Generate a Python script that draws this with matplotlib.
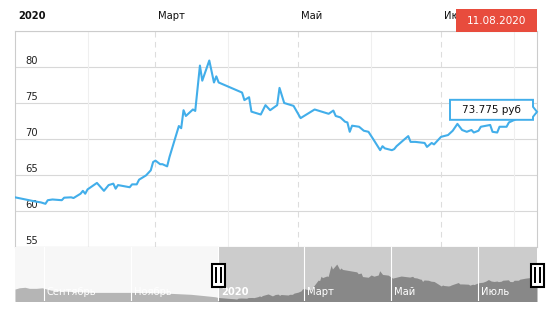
import matplotlib
matplotlib.use("Agg")
import numpy as np
import pandas as pd
import matplotlib.pyplot as plt
import matplotlib.dates as mdates
from matplotlib.patches import Rectangle, Polygon
from matplotlib.transforms import Affine2D, blended_transform_factory, offset_copy

# USD/RUB 2020
dates = ["2020-01-01", "2020-01-10", "2020-01-12", "2020-01-14", "2020-01-15", "2020-01-17",
         "2020-01-21", "2020-01-22", "2020-01-25", "2020-01-26", "2020-01-29", "2020-01-30",
         "2020-01-31", "2020-02-01", "2020-02-05", "2020-02-08", "2020-02-10", "2020-02-12",
         "2020-02-13", "2020-02-14", "2020-02-19", "2020-02-20", "2020-02-22", "2020-02-23",
         "2020-02-26", "2020-02-28", "2020-02-29", "2020-03-01", "2020-03-03", "2020-03-04",
         "2020-03-06", "2020-03-07", "2020-03-11", "2020-03-12", "2020-03-13", "2020-03-14",
         "2020-03-17", "2020-03-18", "2020-03-20", "2020-03-21", "2020-03-24", "2020-03-26",
         "2020-03-27", "2020-03-28", "2020-04-07", "2020-04-08", "2020-04-10", "2020-04-11",
         "2020-04-15", "2020-04-17", "2020-04-19", "2020-04-22", "2020-04-23", "2020-04-25",
         "2020-04-29", "2020-05-02", "2020-05-08", "2020-05-14", "2020-05-16", "2020-05-17",
         "2020-05-19", "2020-05-21", "2020-05-22", "2020-05-23", "2020-05-24", "2020-05-27",
         "2020-05-29", "2020-05-31", "2020-06-02", "2020-06-05", "2020-06-06", "2020-06-07",
         "2020-06-10", "2020-06-11", "2020-06-12", "2020-06-15", "2020-06-17", "2020-06-18",
         "2020-06-20", "2020-06-24", "2020-06-25", "2020-06-27", "2020-06-28", "2020-07-01",
         "2020-07-04", "2020-07-06", "2020-07-08", "2020-07-10", "2020-07-12", "2020-07-14",
         "2020-07-15", "2020-07-17", "2020-07-18", "2020-07-22", "2020-07-23", "2020-07-25",
         "2020-07-26", "2020-07-29", "2020-07-30", "2020-08-03", "2020-08-06", "2020-08-08",
         "2020-08-10", "2020-08-11"]
rates = [61.9, 61.3, 61.2, 61.0, 61.5, 61.6,
         61.5, 61.85, 61.9, 61.8, 62.4, 62.8,
         62.4, 63.0, 63.9, 62.8, 63.6, 63.8,
         63.1, 63.6, 63.3, 63.7, 63.7, 64.35,
         64.95, 65.65, 66.8, 67.0, 66.5, 66.5,
         66.2, 67.5, 71.8, 71.5, 74.0, 73.2,
         74.1, 73.9, 80.2, 78.1, 80.9, 77.85,
         78.7, 77.85, 76.45, 75.4, 75.8, 73.8,
         73.4, 74.7, 74.0, 74.7, 77.1, 75.0,
         74.6, 72.9, 74.1, 73.5, 73.95, 73.2,
         73.0, 72.4, 72.3, 71.0, 71.85, 71.7,
         71.15, 71.0, 70.0, 68.45, 69.0, 68.7,
         68.45, 68.6, 69.0, 69.85, 70.4, 69.6,
         69.6, 69.45, 68.9, 69.45, 69.25, 70.3,
         70.55, 71.15, 72.1, 71.25, 71.0, 71.25,
         70.9, 71.15, 71.7, 71.95, 71.0, 70.9,
         71.7, 71.7, 72.3, 72.9, 73.2, 73.4,
         73.5, 73.775]

# navigator history before 2020
hist_dates = ["2019-08-12", "2019-08-15", "2019-08-19", "2019-08-22", "2019-08-27", "2019-08-31",
              "2019-09-06", "2019-09-13", "2019-09-23", "2019-10-04", "2019-10-18", "2019-11-01",
              "2019-11-15", "2019-11-29", "2019-12-13", "2019-12-23", "2019-12-30"]
hist_rates = [66.7, 67.4, 67.7, 67.1, 67.1, 67.4,
              66.1, 65.6, 65.2, 64.8, 64.8, 64.8,
              64.6, 64.25, 63.7, 62.9, 62.3]

y_ticks = [55, 60, 65, 70, 75, 80]
y_grid = [55, 60, 65, 70, 75, 80, 85]
top_ticks = ["2020-01-01", "2020-03-01", "2020-05-01", "2020-07-01"]
top_labels = ["2020", "Март", "Май", "Июль"]
minor_months = ["2020-02-01", "2020-04-01", "2020-06-01", "2020-08-01"]
nav_ticks = ["2019-09-01", "2019-11-01", "2020-01-01", "2020-03-01", "2020-05-01", "2020-07-01"]
nav_labels = ["Сентябрь", "Ноябрь", "2020", "Март", "Май", "Июль"]
last_label = "11.08.2020"
unit = "руб"

line_color = "#42aeea"
W, H = 547, 323
plt.rcParams["font.family"] = ["DejaVu Sans"]

x = pd.to_datetime(dates)
hx = pd.to_datetime(hist_dates)
start, end = x[0], x[-1]

fig = plt.figure(figsize=(W / 100, H / 100), dpi=100)
ax = fig.add_axes([15 / W, 1 - 247 / H, 522 / W, 216 / H])
nav = fig.add_axes([15 / W, 1 - 301 / H, 522 / W, 54 / H])

# main chart
ax.set_xlim(start, end)
ax.set_ylim(55, 85)
for s in ax.spines.values():
    s.set_color("#cccccc")
    s.set_linewidth(0.8)
ax.set_xticks([])
ax.set_yticks([])
for v in y_grid:
    ax.axhline(v, color="#d8d8d8", lw=0.8, zorder=1)
for m in minor_months:
    ax.axvline(pd.Timestamp(m), color="#efefef", lw=0.8, zorder=1)
for m in top_ticks[1:]:
    ax.axvline(pd.Timestamp(m), color="#dddddd", lw=0.8, ls=(0, (5, 4)), zorder=1)

ytrans = blended_transform_factory(ax.transAxes, ax.transData)
for v in y_ticks:
    ax.text(10 / 522, v, str(v), transform=offset_copy(ytrans, fig, y=1, units="dots"),
            ha="left", va="bottom", fontsize=7.2, color="#222222")

xtrans = blended_transform_factory(ax.transData, ax.transAxes)
for t, lab in zip(top_ticks, top_labels):
    ax.text(pd.Timestamp(t), 1, lab, transform=offset_copy(xtrans, fig, x=3, y=15, units="dots"),
            ha="left", va="center", fontsize=7.2, color="#111111",
            fontweight="bold" if lab == "2020" else "normal")

ax.plot(x, rates, color=line_color, lw=1.5, zorder=3, solid_joinstyle="round")

# date flag top right
fig.canvas.draw()
axr, axt = ax.transAxes.transform((1, 1))
ax.add_patch(Rectangle((axr - 81, axt - 1), 81, 23, transform=Affine2D(), facecolor="#e84c3d",
                       edgecolor="none", clip_on=False, zorder=6))
ax.text(axr - 40.5, axt + 10.5, last_label, transform=Affine2D(), ha="center", va="center",
        fontsize=7.5, color="white", zorder=7, clip_on=False)

# tooltip at last point
px, py = ax.transData.transform((mdates.date2num(end), rates[-1]))
shape = [(-87, 12), (-4, 12), (-4, 5), (0, 0), (-4, -5), (-4, -8), (-87, -8)]
ax.add_patch(Polygon(shape, closed=True, transform=Affine2D().translate(px, py),
                     facecolor="white", edgecolor=line_color, lw=1.4, clip_on=False, zorder=8))
ax.text(px - 45.5, py + 2, f"{rates[-1]:.3f} {unit}", transform=Affine2D(), ha="center",
        va="center", fontsize=7.5, color="#111111", zorder=9, clip_on=False)

# navigator
nx = hx.append(x)
nv = list(hist_rates) + list(rates)
nav.set_xlim(hx[0], end)
nav.set_ylim(59.9, 90.6)
nav.set_facecolor("#f7f7f7")
nav.axvspan(start, end, color="#cccccc", lw=0, zorder=0)
for s in nav.spines.values():
    s.set_visible(False)
nav.set_xticks([])
nav.set_yticks([])
sel = nx >= start
old = nx <= start
nav.fill_between(nx[old], 0, np.array(nv)[old], color="#b5b5b5", lw=0, zorder=1)
nav.fill_between(nx[sel], 0, np.array(nv)[sel], color="#888888", lw=0, zorder=1)
ntrans = blended_transform_factory(nav.transData, nav.transAxes)
for t, lab in zip(nav_ticks, nav_labels):
    nav.axvline(pd.Timestamp(t), color="white", lw=0.8, zorder=2)
    nav.text(pd.Timestamp(t), 0, lab, transform=offset_copy(ntrans, fig, x=3, y=4, units="dots"),
             ha="left", va="bottom", fontsize=7.2, color="white", zorder=3,
             fontweight="bold" if lab == "2020" else "normal")

fig.canvas.draw()
for d in [start, end]:
    hx_, hy_ = nav.transData.transform((mdates.date2num(d), 0))
    hy_ = nav.transAxes.transform((0, 0.48))[1]
    nav.add_patch(Rectangle((hx_ - 6.5, hy_ - 11.5), 13, 23, transform=Affine2D(),
                            facecolor="white", edgecolor="black", lw=1.5, clip_on=False, zorder=5))
    for dx in (-2.5, 2.5):
        nav.add_patch(Rectangle((hx_ + dx - 1, hy_ - 8), 2, 16, transform=Affine2D(),
                                facecolor="black", edgecolor="none", clip_on=False, zorder=6))

fig.savefig("out.png", dpi=100, facecolor="white")
